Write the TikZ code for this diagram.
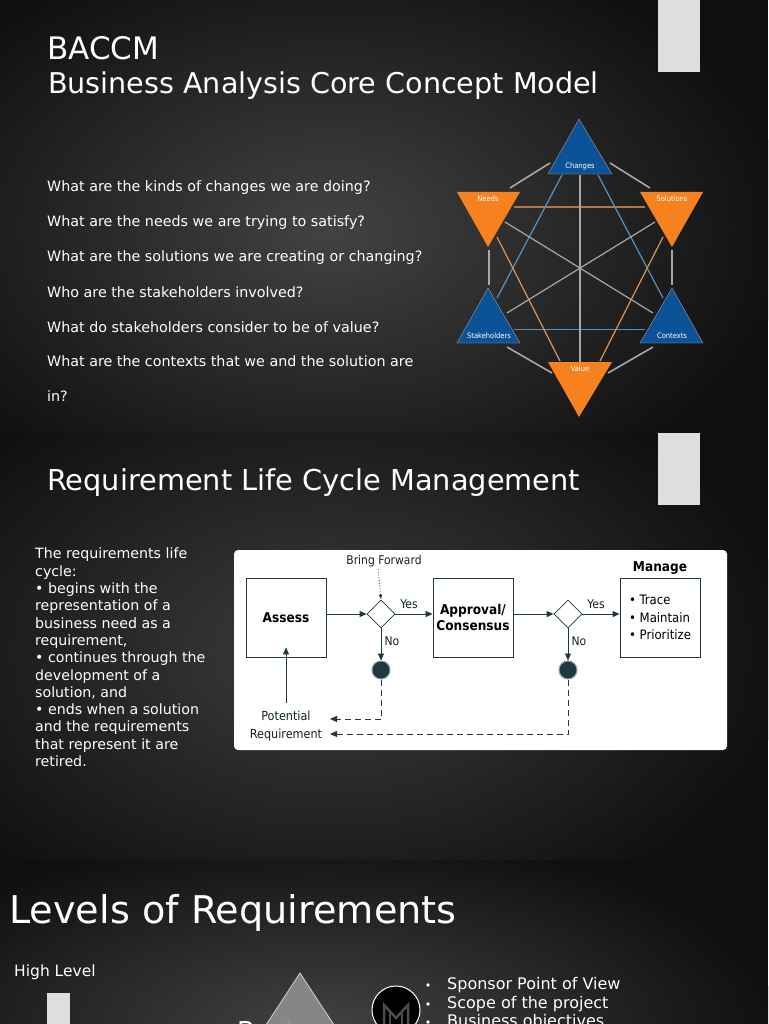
\documentclass[tikz,border=0pt]{standalone}
\usepackage{fontspec}
\setmainfont{DejaVu Sans}
\newfontfamily\cond{DejaVu Sans Condensed}
\usetikzlibrary{arrows.meta,shapes.geometric}
\definecolor{ba}{HTML}{0B5296}
\definecolor{og}{HTML}{F5821F}
\definecolor{ln}{HTML}{A8A8A8}
\definecolor{bl}{HTML}{5E8FB8}
\definecolor{ol}{HTML}{D9955A}
\definecolor{dk}{HTML}{1E3A40}
\tikzset{
 wt/.style={text=white,inner sep=0pt,anchor=west},
 qtxt/.style={wt,font=\fontsize{14.3}{16}\selectfont},
 hexln/.style={ln,line width=1.6pt},
 tlab/.style={text=white,font=\cond\fontsize{7.5}{8}\selectfont,inner sep=0pt},
 box/.style={draw=dk,line width=0.8pt,fill=white,minimum width=80pt,minimum height=79pt,inner sep=0pt,text=black},
 dia/.style={draw=dk,line width=0.8pt,diamond,minimum width=28pt,minimum height=28pt,inner sep=0pt,fill=white},
 arr/.style={-{Triangle[length=7pt,width=6pt]},dk,line width=0.9pt},
 dsh/.style={arr,dashed,dash pattern=on 6pt off 4pt},
 lc/.style={text=dk!60!black,font=\cond\fontsize{12}{13}\selectfont,inner sep=0pt},
 endc/.style={circle,fill=dk,draw=dk!50,line width=1pt,minimum size=18pt,inner sep=0pt},
 gbar/.style={fill=black!13,draw=none},
}
\begin{document}
\begin{tikzpicture}[x=1pt,y=-1pt]
\useasboundingbox (0,0) rectangle (768,1024);
\fill[black!94] (0,0) rectangle (768,1024);
% slide backgrounds
\begin{scope}
\clip (0,0) rectangle (768,432);
\shade[inner color=black!74,outer color=black!94] (330,230) ellipse (460 and 300);
\end{scope}
\begin{scope}
\clip (0,433) rectangle (768,860);
\shade[inner color=black!76,outer color=black!94] (330,650) ellipse (460 and 300);
\end{scope}
\begin{scope}
\clip (0,860) rectangle (768,1024);
\shade[inner color=black!74,outer color=black!94] (320,1030) ellipse (460 and 200);
\end{scope}
\fill[gbar] (658,0) rectangle (700,72);
\fill[gbar] (658,433) rectangle (700,505);
\fill[gbar] (47,993) rectangle (70,1024);
% slide 1 titles
\node[wt,font=\fontsize{31}{32}\selectfont] (t1) at (47,48) {BACCM};
\node[wt,font=\fontsize{28.6}{30}\selectfont] (t2) at (48,86) {Business Analysis Core Concept Model};
\foreach \t/\y [count=\i] in {What are the kinds of changes we are doing?/188,What are the needs we are trying to satisfy?/223,What are the solutions we are creating or changing?/258,Who are the stakeholders involved?/292,What do stakeholders consider to be of value?/327,What are the contexts that we and the solution are/361,in?/396}
 \node[qtxt] (q\i) at (47,\y) {\t};
% hexagram coordinates
\coordinate (cA) at (550,163); \coordinate (nA) at (510,188);
\coordinate (cB) at (610,163); \coordinate (sA) at (650,188);
\coordinate (nB) at (489,250); \coordinate (kA) at (489,285);
\coordinate (sB) at (672,250); \coordinate (xA) at (672,285);
\coordinate (kB) at (507,347); \coordinate (vA) at (552,373);
\coordinate (xB) at (653,347); \coordinate (vB) at (608,373);
\draw[hexln] (cA)--(nA); \draw[hexln] (cB)--(sA);
\draw[hexln] (nB)--(kA); \draw[hexln] (sB)--(xA);
\draw[hexln] (kB)--(vA); \draw[hexln] (xB)--(vB);
\draw[ol!80!black,line width=1.2pt] (514,207)--(645,207);
\draw[bl,line width=0.9pt] (514,329)--(645,329);
\draw[ln,line width=1.2pt] (580,175)--(580,362);
\draw[bl,line width=1.2pt] (562,175)--(497,298);
\draw[bl,line width=1.2pt] (598,175)--(663,298);
\draw[ol,line width=1.2pt] (497,237)--(560,361);
\draw[ol,line width=1.2pt] (663,237)--(600,361);
\draw[ln,line width=1.2pt] (505,222)--(653,313);
\draw[ln,line width=1.2pt] (655,222)--(507,313);
% triangles
\fill[ba,draw=black!30,line width=0.3pt] (579,119)--(612,174)--(548,174)--cycle;
\node[tlab] (lch) at (580,166) {Changes};
\fill[og] (457,192)--(520,192)--(488,247)--cycle;
\node[tlab] (lnd) at (488,199) {Needs};
\fill[og] (640,192)--(703,192)--(672,247)--cycle;
\node[tlab] (lso) at (672,199) {Solutions};
\fill[ba,draw=black!30,line width=0.3pt] (488,288)--(520,343)--(457,343)--cycle;
\node[tlab] (lsk) at (489,336) {Stakeholders};
\fill[ba,draw=black!30,line width=0.3pt] (672,288)--(703,343)--(640,343)--cycle;
\node[tlab] (lco) at (672,336) {Contexts};
\fill[og] (548,362)--(612,362)--(579,417)--cycle;
\node[tlab] (lva) at (580,369) {Value};
% slide 2
\node[wt,font=\fontsize{28.8}{30}\selectfont] (t3) at (47,483) {Requirement Life Cycle Management};
\node[text=white,anchor=north west,inner sep=0pt,align=left,font=\fontsize{14.2}{17.3}\selectfont] (lc) at (35,548) {The requirements life\\cycle:\\• begins with the\\representation of a\\business need as a\\requirement,\\• continues through the\\development of a\\solution, and\\• ends when a solution\\and the requirements\\that represent it are\\retired.};
\fill[white,rounded corners=4pt] (234,550) rectangle (727,750);
\node[box,font=\cond\fontsize{13.5}{15}\selectfont\bfseries] (as) at (286,617.5) {Assess};
\node[box,font=\cond\fontsize{13.5}{16}\selectfont\bfseries,align=center] (ap) at (473,617.5) {Approval/\\Consensus};
\node[box,align=left,font=\cond\fontsize{13}{17.5}\selectfont] (mg) at (660,617.5) {\textbullet\ Trace\\\textbullet\ Maintain\\\textbullet\ Prioritize};
\node[font=\cond\fontsize{13.5}{15}\selectfont\bfseries,text=black,inner sep=0pt] (mt) at (660,568) {Manage};
\node[dia] (d1) at (381,614) {};
\node[dia] (d2) at (568,614) {};
\node[endc] (e1) at (381,670) {};
\node[endc] (e2) at (568,670) {};
\node[lc] (bf) at (384,561) {Bring Forward};
\node[lc,align=center,font=\cond\fontsize{12.5}{18}\selectfont] (pr) at (286,726) {Potential\\Requirement};
\node[lc] (y1) at (409,604) {Yes};
\node[lc] (y2) at (596,604) {Yes};
\node[lc] (n1) at (392,641) {No};
\node[lc] (n2) at (579,641) {No};
\draw[arr] (as.east|-d1) -- (d1.west);
\draw[arr] (d1.east) -- (ap.west|-d1);
\draw[arr] (ap.east|-d2) -- (d2.west);
\draw[arr] (d2.east) -- (mg.west|-d2);
\draw[arr] (d1.south) -- (e1.north);
\draw[arr] (d2.south) -- (e2.north);
\draw[-{Latex[length=5pt]},dk,dotted,line width=0.8pt] (bf.south)++(-6,2) -- (d1.north);
\draw[arr] (pr.north) ++(0,-8) coordinate (pu) -- ([yshift=10pt]pu|-as.south);
\coordinate (r1) at (330,719); \coordinate (r2) at (330,734);
\draw[dsh] (e1.south) |- (r1);
\draw[dsh] (e2.south) |- (r2);
% slide 3
\node[wt,font=\fontsize{38.2}{40}\selectfont] (t4) at (9,913) {Levels of Requirements};
\node[wt,font=\fontsize{15.5}{17}\selectfont] (hl) at (14,972) {High Level};
\node[wt,font=\fontsize{26}{28}\selectfont,anchor=base west] (bus) at (237,1040) {Business};
\fill[black!45,draw=black!15,line width=0.8pt,opacity=0.93] (300,973)--(370,1080)--(230,1080)--cycle;
\node[circle,fill=black,draw=white!85,line width=1pt,minimum size=48pt,inner sep=0pt] (lg) at (396,1010) {};
\draw[black!70,line width=2.5pt] (384,1030)--(384,1005)--(396,1018)--(408,1005)--(408,1030);
\draw[black!70,line width=2pt] (390,1030)--(390,1012) (402,1012)--(402,1030);
\foreach \t/\y [count=\i] in {Sponsor Point of View/985,Scope of the project/1004,Business objectives/1022}{
 \node[wt,font=\fontsize{16}{18}\selectfont] (b\i) at (447,\y) {\t};
 \fill[white] (428,\y) circle (1.8);}
\end{tikzpicture}
\end{document}
